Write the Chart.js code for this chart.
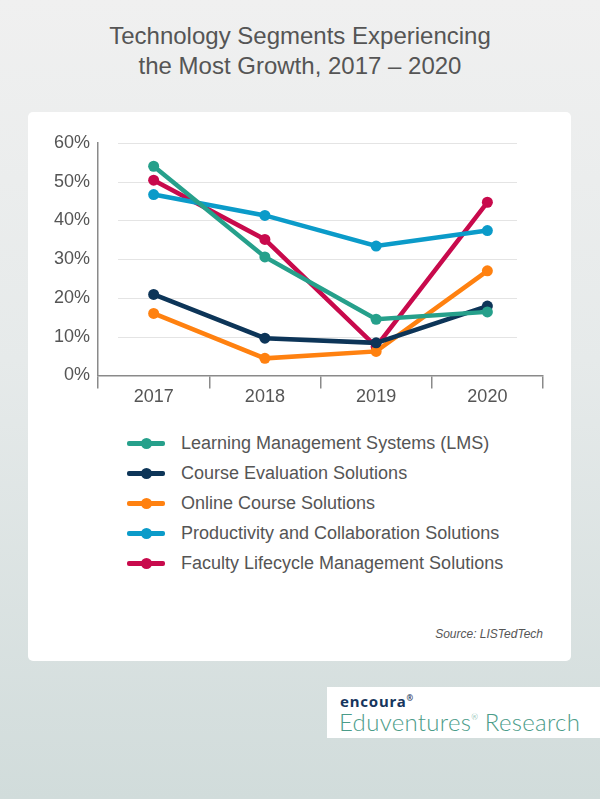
<!DOCTYPE html>
<html>
<head>
<meta charset="utf-8">
<script src="https://cdn.jsdelivr.net/npm/chart.js@4/dist/chart.umd.min.js"></script>
<style>
  html, body { margin: 0; padding: 0; }
  body {
    width: 600px; height: 799px; position: relative; overflow: hidden;
    background: linear-gradient(to bottom, #f0f0f0 0%, #e6eaea 45%, #d1dcdb 100%);
    font-family: "Liberation Sans", Arial, sans-serif; color: #555;
  }
  .title {
    position: absolute; left: 0; top: 21px; width: 600px; text-align: center;
    font-size: 24px; line-height: 30px; color: #555;
  }
  .card {
    position: absolute; left: 28px; top: 112px; width: 543px; height: 549px;
    background: #fff; border-radius: 5px;
  }
  .chart-box { position: absolute; left: 0; top: 0; width: 543px; height: 294px; }
  .legend { position: absolute; left: 99px; top: 316px; }
  .legend .item { height: 30px; display: flex; align-items: center; font-size: 18px; color: #555; }
  .legend .mark { position: relative; width: 38px; height: 11px; margin-right: 16px; }
  .legend .mark .ln { position: absolute; left: 0; top: 3px; width: 38px; height: 5px; border-radius: 2px; }
  .legend .mark .dt { position: absolute; left: 14px; top: 0; width: 11px; height: 11px; border-radius: 50%; }
  .source {
    position: absolute; right: 28px; top: 515px; font-size: 12px; font-style: italic; color: #555;
  }
  .logo {
    position: absolute; left: 327px; top: 687px; width: 273px; height: 51px; background: #fff;
  }
  .logo .enc {
    position: absolute; left: 13px; top: 4px; font-family: "Noto Sans", sans-serif;
    font-weight: 700; font-size: 15px; color: #17365d; letter-spacing: 0.8px;
  }
  .logo .edu {
    position: absolute; left: 12px; top: 20px; font-family: Lato, sans-serif; font-weight: 300;
    font-size: 24px; color: #4b9c89; letter-spacing: 0.3px;
  }
  .logo sup { font-size: 8px; vertical-align: 6px; letter-spacing: 0; }
  .logo .edu sup { vertical-align: 11px; }
</style>
</head>
<body>
<div class="title">Technology Segments Experiencing<br>the Most Growth, 2017 – 2020</div>
<div class="card">
  <div class="chart-box"><canvas id="growthChart"></canvas></div>
  <div class="legend" id="legend"></div>
  <div class="source">Source: LISTedTech</div>
</div>
<div class="logo">
  <div class="enc">encoura<sup>®</sup></div>
  <div class="edu">Eduventures<sup>®</sup> Research</div>
</div>
<script>
const years = ['2017', '2018', '2019', '2020'];
const seriesNames = [
  'Learning Management Systems (LMS)',
  'Course Evaluation Solutions',
  'Online Course Solutions',
  'Productivity and Collaboration Solutions',
  'Faculty Lifecycle Management Solutions'
];
const lmsValues = [54, 30.6, 14.5, 16.4];
const courseEvalValues = [20.9, 9.6, 8.4, 17.9];
const onlineCourseValues = [16, 4.4, 6.2, 27];
const productivityValues = [46.7, 41.3, 33.4, 37.4];
const facultyValues = [50.4, 35.1, 7.4, 44.7];
const seriesColors = ['#26a08b', '#0d3558', '#ff8110', '#0b9bc9', '#c80a4c'];
const yTicks = [0, 10, 20, 30, 40, 50, 60];

const seriesValues = [lmsValues, courseEvalValues, onlineCourseValues, productivityValues, facultyValues];

// horizontal gridlines that stop short of the axis ends, like the original
const shortGrid = {
  id: 'shortGrid',
  beforeDatasetsDraw(chart) {
    const { ctx, chartArea, scales } = chart;
    ctx.save();
    ctx.strokeStyle = '#e4e4e4';
    ctx.lineWidth = 1;
    yTicks.forEach(function (t) {
      if (t === 0) return;
      const y = Math.round(scales.y.getPixelForValue(t)) + 0.5;
      ctx.beginPath();
      ctx.moveTo(chartArea.left + 20, y);
      ctx.lineTo(chartArea.right - 26, y);
      ctx.stroke();
    });
    ctx.restore();
  }
};

document.addEventListener('DOMContentLoaded', function () {
  const ctx = document.getElementById('growthChart');

  const datasets = seriesNames.map(function (name, i) {
    return {
      label: name,
      data: seriesValues[i],
      borderColor: seriesColors[i],
      backgroundColor: seriesColors[i],
      borderWidth: 4.5,
      pointRadius: 5.5,
      pointHoverRadius: 5.5,
      pointBorderWidth: 0,
      tension: 0,
      fill: false
    };
  });

  const chart = new Chart(ctx, {
    type: 'line',
    data: { labels: years, datasets: datasets },
    options: {
      responsive: true,
      maintainAspectRatio: false,
      animation: false,
      layout: { padding: { left: 18, right: 28, top: 31, bottom: 0 } },
      plugins: { legend: { display: false }, tooltip: { enabled: false } },
      scales: {
        x: {
          offset: true,
          grid: { offset: true, drawOnChartArea: false, tickLength: 13, color: '#8a8a8a', lineWidth: 1.5 },
          border: { color: '#8a8a8a', width: 1.5 },
          ticks: { color: '#555', font: { family: 'Liberation Sans', size: 18 }, padding: -2 }
        },
        y: {
          min: 0,
          max: 60,
          afterBuildTicks: function (axis) { axis.ticks = yTicks.map(function (v) { return { value: v }; }); },
          grid: { display: false, drawTicks: false },
          border: { color: '#8a8a8a', width: 1.5 },
          ticks: {
            color: '#555',
            font: { family: 'Liberation Sans', size: 18 },
            padding: 8,
            callback: function (v) { return v + '%'; }
          }
        }
      }
    },
    plugins: [shortGrid]
  });

  const legend = document.getElementById('legend');
  chart.data.datasets.forEach(function (ds) {
    const item = document.createElement('div');
    item.className = 'item';
    item.innerHTML = '<span class="mark"><span class="ln" style="background:' + ds.borderColor +
      '"></span><span class="dt" style="background:' + ds.borderColor + '"></span></span>' +
      '<span>' + ds.label + '</span>';
    legend.appendChild(item);
  });
});
</script>
</body>
</html>
